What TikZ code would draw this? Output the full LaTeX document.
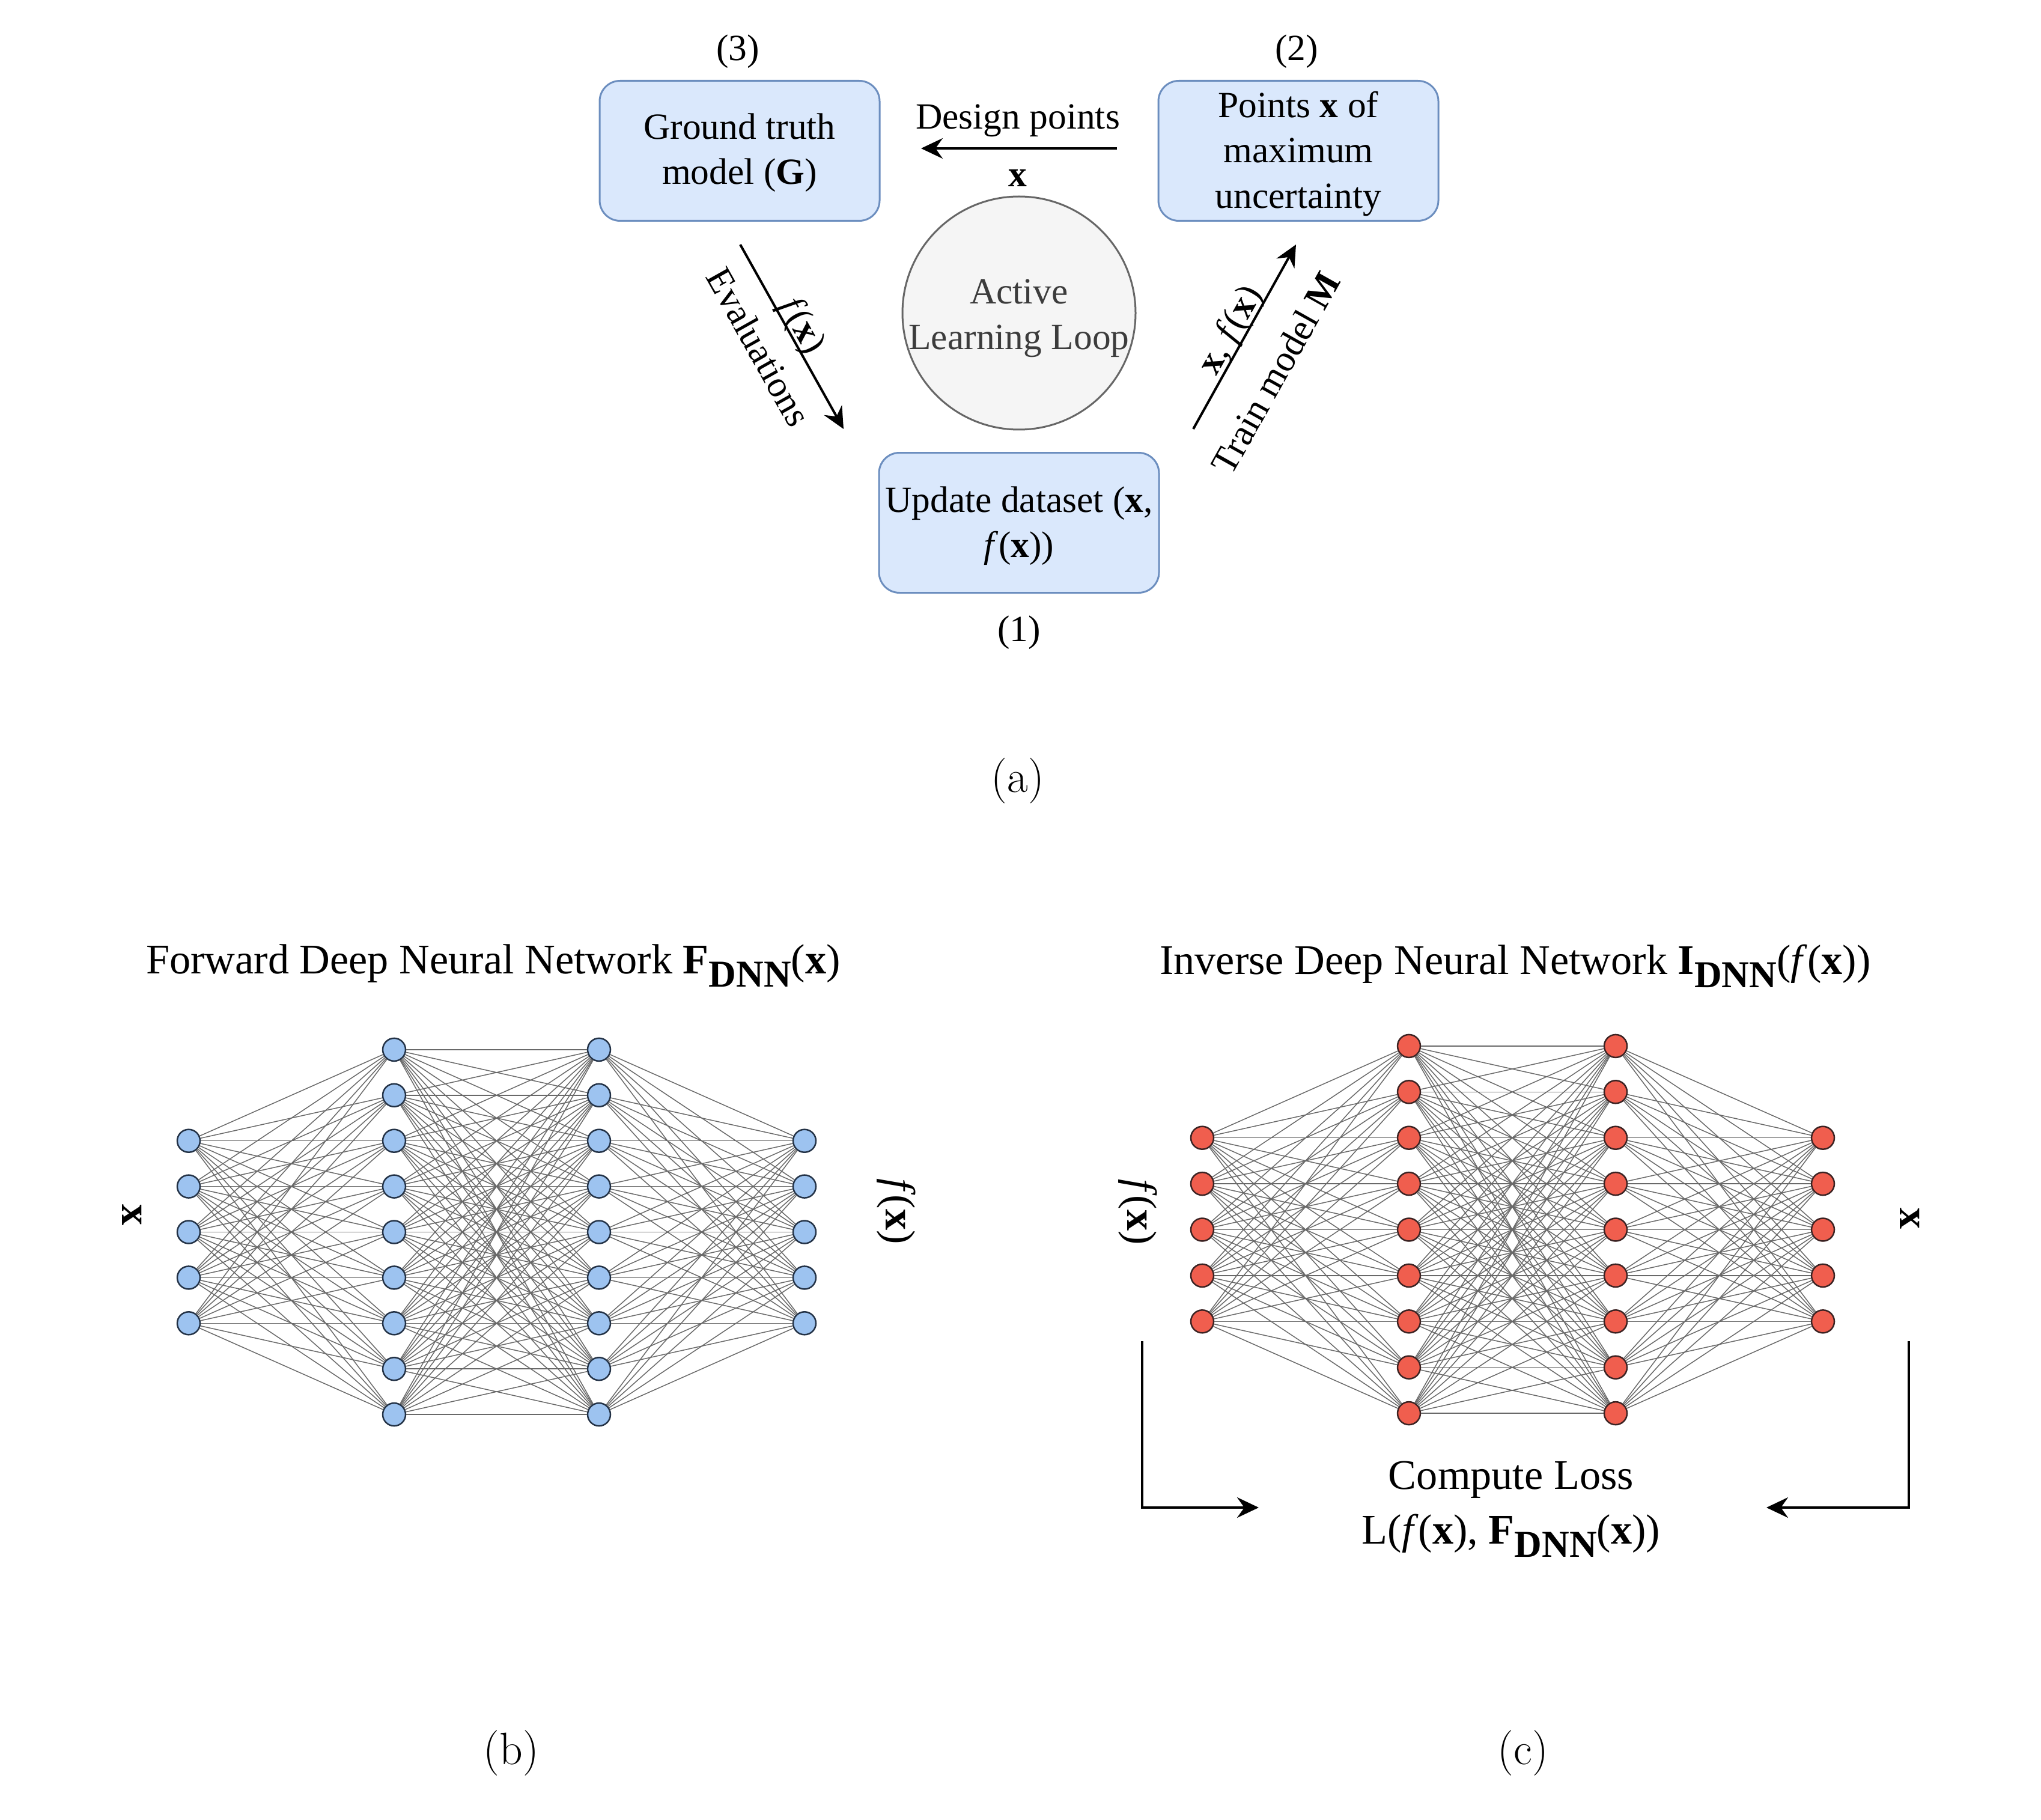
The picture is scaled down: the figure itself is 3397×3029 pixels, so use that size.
\documentclass[tikz,border=0pt]{standalone}
\usepackage{fontspec}
\newfontfamily\tnr{Liberation Serif}
\usetikzlibrary{arrows.meta}
\definecolor{boxfill}{HTML}{DAE8FC}
\definecolor{boxline}{HTML}{6C8EBF}
\definecolor{loopfill}{HTML}{F5F5F5}
\definecolor{loopline}{HTML}{666666}
\definecolor{looptext}{HTML}{3C3C3C}
\definecolor{bfill}{RGB}{157,195,240}
\definecolor{bline}{RGB}{35,50,70}
\definecolor{rfill}{RGB}{240,94,78}
\definecolor{rline}{RGB}{60,35,35}
\definecolor{edgecol}{RGB}{105,105,105}
\newcommand{\fsmall}{\tnr\fontsize{17.5}{21.5}\selectfont}
\newcommand{\fbig}{\tnr\fontsize{20}{25}\selectfont}
\newcommand{\dnnsub}{\raisebox{-0.32em}{\fontsize{18}{18}\selectfont\bfseries DNN}}
\newcommand{\topstrut}[1]{\rule{0pt}{\dimexpr\fontcharht\font`d+#1\relax}}
\begin{document}
\begin{tikzpicture}[x=0.1mm,y=-0.1mm,
  box/.style={draw=boxline, fill=boxfill, line width=0.3mm, rounded corners=3.4mm,
    minimum width=46.6mm, minimum height=23.3mm, align=center, inner sep=0pt, font=\fsmall},
  loopc/.style={circle, draw=loopline, fill=loopfill, line width=0.3mm, minimum size=38.8mm,
    inner sep=-3pt, align=center, font=\fsmall, text=looptext},
  lab/.style={font=\fsmall, inner sep=0pt, align=center},
  blab/.style={font=\fbig, inner sep=0pt, align=center},
  arr/.style={line width=0.4mm, -{Stealth[length=3.6mm,width=3.4mm,inset=1.2mm]}},
  edge/.style={draw=edgecol, line width=0.15mm},
  bn/.style={circle, minimum size=3.8mm, inner sep=0pt, fill=bfill, draw=bline, line width=0.25mm},
  rn/.style={circle, minimum size=3.8mm, inner sep=0pt, fill=rfill, draw=rline, line width=0.25mm},
  captxt/.style={font=\fontsize{21.5}{26}\selectfont, inner sep=0pt}
]
\useasboundingbox (0,0) rectangle (3397,3029);

% ---------- (a) active learning loop ----------
\node[box] (G) at (1231,251) {\topstrut{2.6pt}Ground truth\\model (\textbf{G})};
\node[box] (P) at (2161,251) {\topstrut{3.6pt}Points \textbf{x} of\\maximum\\uncertainty};
\node[box] (U) at (1696,870) {\topstrut{3.6pt}Update dataset (\textbf{x},\\\textit{f}(\textbf{x}))};
\node[loopc] (L) at (1696,521) {\topstrut{5pt}Active\\Learning Loop};
\node[lab] (n3) at (1228,86) {(3)};
\node[lab] (n2) at (2158,86) {(2)};
\node[lab] (n1) at (1696,1053) {(1)};

\coordinate (d1) at (1859,247);
\coordinate (d2) at (1533,247);
\draw[arr] (d1) -- (d2);
\node[lab] (dp) at (1694,201) {Design points};
\node[lab] (dx) at (1694,296) {\textbf{x}};

\coordinate (e1) at (1232,407);
\coordinate (e2) at (1404,714);
\draw[arr] (e1) -- (e2);
\node[lab, rotate=-60.7] (ef) at (1333,543) {\textit{f}(\textbf{x})};
\node[lab, rotate=-60.7] (ev) at (1263,577) {Evaluations};

\coordinate (t1) at (1986,714);
\coordinate (t2) at (2157,407);
\draw[arr] (t1) -- (t2);
\node[lab, rotate=60.7] (tx) at (2050,550) {\textbf{x}, \textit{f}(\textbf{x})};
\node[lab, rotate=60.7] (tm) at (2123,620) {Train model \textbf{M}};

\node[captxt] (capa) at (1694,1300) {(a)};

% ---------- (b) forward network ----------
\node[blab, anchor=base] (ftitle) at (821,1620) {Forward Deep Neural Network \textbf{F}\dnnsub(\textbf{x})};
\foreach \i in {1,...,5} {
  \node[bn] (f1-\i) at (314,{2050.5+(\i-3)*75.9}) {};
  \node[bn] (f4-\i) at (1339,{2050.5+(\i-3)*75.9}) {};
}
\foreach \i in {1,...,9} {
  \node[bn] (f2-\i) at (656,{2050.5+(\i-5)*75.9}) {};
  \node[bn] (f3-\i) at (997,{2050.5+(\i-5)*75.9}) {};
}
\foreach \i in {1,...,5} \foreach \j in {1,...,9} \draw[edge] (f1-\i) -- (f2-\j);
\foreach \i in {1,...,9} \foreach \j in {1,...,9} \draw[edge] (f2-\i) -- (f3-\j);
\foreach \i in {1,...,9} \foreach \j in {1,...,5} \draw[edge] (f3-\i) -- (f4-\j);
\node[blab, rotate=-90] (fxl) at (220,2022) {\textbf{x}};
\node[blab, rotate=-90] (ffl) at (1492,2016) {\textit{f}(\textbf{x})};
\node[captxt] (capb) at (851,2918) {(b)};

% ---------- (c) inverse network ----------
\node[blab, anchor=base] (ititle) at (2522,1621) {Inverse Deep Neural Network \textbf{I}\dnnsub(\textit{f}(\textbf{x}))};
\foreach \i in {1,...,5} {
  \node[rn] (i1-\i) at (2001,{2046.5+(\i-3)*76.4}) {};
  \node[rn] (i4-\i) at (3034,{2046.5+(\i-3)*76.4}) {};
}
\foreach \i in {1,...,9} {
  \node[rn] (i2-\i) at (2345,{2046.5+(\i-5)*76.4}) {};
  \node[rn] (i3-\i) at (2689,{2046.5+(\i-5)*76.4}) {};
}
\foreach \i in {1,...,5} \foreach \j in {1,...,9} \draw[edge] (i1-\i) -- (i2-\j);
\foreach \i in {1,...,9} \foreach \j in {1,...,9} \draw[edge] (i2-\i) -- (i3-\j);
\foreach \i in {1,...,9} \foreach \j in {1,...,5} \draw[edge] (i3-\i) -- (i4-\j);
\node[blab, rotate=-90] (ifl) at (1894,2017) {\textit{f}(\textbf{x})};
\node[blab, rotate=-90] (ixl) at (3179,2028) {\textbf{x}};

\coordinate (la) at (1901,2232);
\coordinate (lc) at (2095,2509);
\draw[arr] (la) |- (lc);
\coordinate (ra) at (3177,2232);
\coordinate (rc) at (2940,2509);
\draw[arr] (ra) |- (rc);
\node[blab, anchor=base] (cl1) at (2515,2478) {Compute Loss};
\node[blab, anchor=base] (cl2) at (2515,2569) {L(\textit{f}(\textbf{x}), \textbf{F}\dnnsub(\textbf{x}))};
\node[captxt] (capc) at (2535,2918) {(c)};
\end{tikzpicture}
\end{document}
